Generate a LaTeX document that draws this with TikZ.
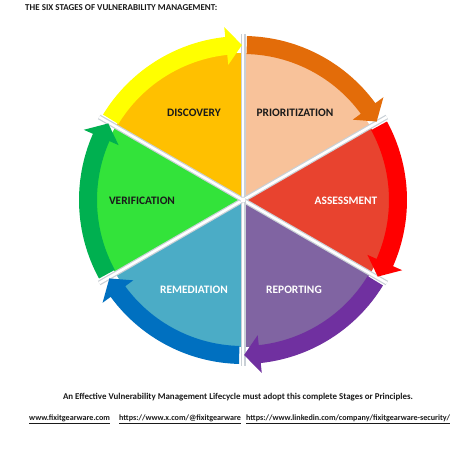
\documentclass[tikz,border=0pt]{standalone}
\usepackage{fontspec}
\setmainfont{Carlito}
\definecolor{cdisc}{HTML}{FFC000}
\definecolor{cprio}{HTML}{F8C29A}
\definecolor{cassm}{HTML}{E8432F}
\definecolor{crepo}{HTML}{8064A2}
\definecolor{creme}{HTML}{4BACC6}
\definecolor{cveri}{HTML}{33E33A}
\definecolor{adisc}{HTML}{FFFF00}
\definecolor{aprio}{HTML}{E36C09}
\definecolor{aassm}{HTML}{FF0000}
\definecolor{arepo}{HTML}{7030A0}
\definecolor{areme}{HTML}{0070C0}
\definecolor{averi}{HTML}{00B050}
\definecolor{gapgray}{HTML}{C9D0D6}
\definecolor{darktext}{HTML}{1A1A1A}
\tikzset{
  stagelabel/.style={font=\fontsize{11.4}{13}\selectfont\bfseries, inner sep=0pt},
  linktext/.style={font=\fontsize{8.1}{9}\selectfont\bfseries, inner sep=0pt, text=darktext},
}
\newcommand{\wedgefill}[3]{% color, start, end
  \fill[#1] (0,0) -- (#2:147pt) arc[start angle=#2, end angle=#3, radius=147pt] -- cycle;}
\newcommand{\bandarrow}[3]{% color, start angle (high), tip angle (low)
  \pgfmathsetmacro{\bang}{#3+5.8}
  \fill[#1] (#2:164pt) arc[start angle=#2, end angle=\bang, radius=164pt]
    -- (\bang:174pt) -- (#3:155pt) -- (\bang:136pt) -- (\bang:146pt)
    arc[start angle=\bang, end angle=#2, radius=146pt] -- cycle;}
\begin{document}
\begin{tikzpicture}[x=1pt,y=1pt]
\useasboundingbox (0,0) rectangle (474,-451);
\fill[white] (0,0) rectangle (474,-451);
\node[anchor=west, font=\fontsize{9}{10}\selectfont\bfseries, text=darktext, inner sep=0pt] (title) at (25,-8) {THE SIX STAGES OF VULNERABILITY MANAGEMENT:};
\begin{scope}[shift={(243,-200)}]
  \wedgefill{cdisc}{90}{150}
  \wedgefill{cprio}{30}{90}
  \wedgefill{cassm}{-30}{30}
  \wedgefill{crepo}{-90}{-30}
  \wedgefill{creme}{-150}{-90}
  \wedgefill{cveri}{150}{210}
  \foreach \a in {90,30,-30,-90,-150,150}{
    \draw[gapgray, line width=5pt] (0,0) -- (\a:166pt);
    \draw[white, line width=2.6pt] (0,0) -- (\a:166pt);
  }
  \fill[white] (0,0) circle (2.5pt);
  \bandarrow{adisc}{148.6}{90.4}
  \bandarrow{aprio}{88.6}{30.4}
  \bandarrow{aassm}{28.6}{-29.6}
  \bandarrow{arepo}{-31.4}{-89.6}
  \bandarrow{areme}{-91.4}{-149.6}
  \bandarrow{averi}{208.6}{150.4}
\end{scope}
\node[stagelabel, text=darktext] (disc) at (194,-113) {DISCOVERY};
\node[stagelabel, text=darktext] (prio) at (295,-113) {PRIORITIZATION};
\node[stagelabel, text=white] (assm) at (346,-201) {ASSESSMENT};
\node[stagelabel, text=white] (repo) at (294,-290) {REPORTING};
\node[stagelabel, text=white] (reme) at (194,-290) {REMEDIATION};
\node[stagelabel, text=darktext] (veri) at (142,-201) {VERIFICATION};
\node[font=\fontsize{8.9}{10}\selectfont\bfseries, text=darktext, inner sep=0pt] (caption) at (238,-397) {An Effective Vulnerability Management Lifecycle must adopt this complete Stages or Principles.};
\node[linktext, anchor=west] (l1) at (29,-419) {\underline{www.fixitgearware.com}};
\node[linktext, anchor=west] (l2) at (119,-419) {\underline{https://www.x.com/@fixitgearware}};
\node[linktext, anchor=west] (l3) at (246,-419) {\underline{https://www.linkedin.com/company/fixitgearware-security/}};
\end{tikzpicture}
\end{document}
